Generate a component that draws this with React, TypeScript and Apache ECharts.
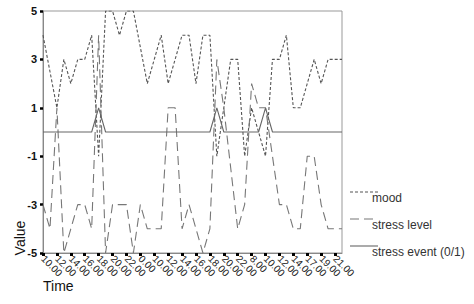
import React, { useEffect, useRef } from "react";
import * as echarts from "echarts";

const tickLabels = [
  "10.00", "12.00", "14.00", "16.00", "18.00", "20.00", "22.00", "0.00",
  "10.00", "12.00", "14.00", "16.00", "18.00", "20.00", "22.00", "8.00",
  "10.00", "12.00", "14.00", "17.00", "19.00", "21.00",
];

const mood = [
  4, 2.5, 1, 3, 2, 3, 3, 4, -1, 5, 5, 4, 5, 5, 3.5, 2, 3, 4, 2, 3, 4, 4,
  2, 4, 4, -1, 1, 3, 3, -1, 1, 0, -1, 3, 3, 4, 1, 1, 2, 3, 2, 3, 3, 3,
];

const stressLevel = [
  -3, -4, 1, -5, -4, -3, -3, -4, 4, -5, -3, -3, -3, -5, -3, -4, -4, -4, 1, 1,
  -4, -3, -4, -5, -4, 3, 1, -1.5, -4, -3, 2, 1, 1, -1, -3, -3, -4, -4, -1, -1,
  -3, -4, -4, -4,
];

const stressEvent = [
  0, 0, 0, 0, 0, 0, 0, 0, 1, 0, 0, 0, 0, 0, 0, 0, 0, 0, 0, 0, 0, 0,
  0, 0, 0, 1, 0, 0, 0, 0, 0, 0, 1, 0, 0, 0, 0, 0, 0, 0, 0, 0, 0, 0,
];

const seriesNames = ["mood", "stress level", "stress event (0/1)"];
const yTicks = [-5, -3, -1, 1, 3, 5];

const FONT = "'Liberation Sans', Arial, sans-serif";

export default function App() {
  const ref = useRef<HTMLDivElement>(null);
  useEffect(() => {
    if (!ref.current) return;
    const chart = echarts.init(ref.current, undefined, { renderer: "svg" });
    const toPairs = (arr: number[]) => arr.map((v, i) => [i, v]);
    const tickPositions = tickLabels.map((_, i) => i * 2);
    const styles = [
      { color: "#555", type: [3, 2] as number[], width: 1.1 },
      { color: "#777", type: [9, 5] as number[], width: 1.1 },
      { color: "#666", type: "solid" as const, width: 1.1 },
    ];
    const datasets = [mood, stressLevel, stressEvent];
    const legendY = [192, 219, 246];
    const graphic: any[] = [
      {
        type: "text",
        x: 20,
        y: 238,
        rotation: Math.PI / 2,
        style: {
          text: "Value",
          font: `14px ${FONT}`,
          fill: "#111",
          textAlign: "center",
          textVerticalAlign: "middle",
        },
      },
      {
        type: "text",
        x: 43,
        y: 286,
        style: {
          text: "Time",
          font: `14px ${FONT}`,
          fill: "#111",
          textAlign: "left",
          textVerticalAlign: "middle",
        },
      },
    ];
    seriesNames.forEach((name, k) => {
      graphic.push({
        type: "line",
        shape: { x1: 350, y1: legendY[k], x2: 378, y2: legendY[k] },
        style: {
          stroke: styles[k].color,
          lineWidth: 1.1,
          lineDash: styles[k].type === "solid" ? null : styles[k].type,
        },
      });
      graphic.push({
        type: "text",
        x: 372,
        y: legendY[k] + 6,
        style: {
          text: name,
          font: `12px ${FONT}`,
          fill: "#333",
          textAlign: "left",
          textVerticalAlign: "middle",
        },
      });
    });

    chart.setOption({
      animation: false,
      backgroundColor: "#fff",
      grid: {
        left: 43,
        right: 132,
        top: 11,
        bottom: 51,
        show: true,
        borderColor: "#999",
        borderWidth: 1,
        backgroundColor: "transparent",
      },
      xAxis: {
        type: "value",
        min: 0,
        max: mood.length - 1,
        splitLine: { show: false },
        axisLine: { show: true, onZero: false, lineStyle: { color: "#888", width: 1 } },
        axisTick: {
          show: true,
          customValues: tickPositions,
          length: 3,
          lineStyle: { color: "#000", width: 3 },
        },
        axisLabel: {
          customValues: tickPositions,
          formatter: (v: number) => tickLabels[Math.round(v / 2)] ?? "",
          rotate: -45,
          margin: 4,
          fontSize: 10,
          fontFamily: FONT,
          color: "#222",
        },
      },
      yAxis: {
        type: "value",
        min: -5,
        max: 5,
        interval: 2,
        splitLine: { show: false },
        axisLine: { show: true, onZero: false, lineStyle: { color: "#888", width: 1 } },
        axisTick: {
          show: true,
          length: 3,
          lineStyle: { color: "#000", width: 2.5 },
        },
        axisLabel: {
          customValues: yTicks,
          margin: 6,
          fontSize: 11,
          fontWeight: "bold",
          fontFamily: FONT,
          color: "#111",
        },
      },
      series: seriesNames.map((name, k) => ({
        name,
        type: "line",
        data: toPairs(datasets[k]),
        symbol: "none",
        silent: true,
        lineStyle: styles[k],
      })),
      graphic,
    });
    return () => chart.dispose();
  }, []);
  return (
    <div
      ref={ref}
      style={{ position: "fixed", left: 0, top: 0, width: 474, height: 304 }}
    />
  );
}
